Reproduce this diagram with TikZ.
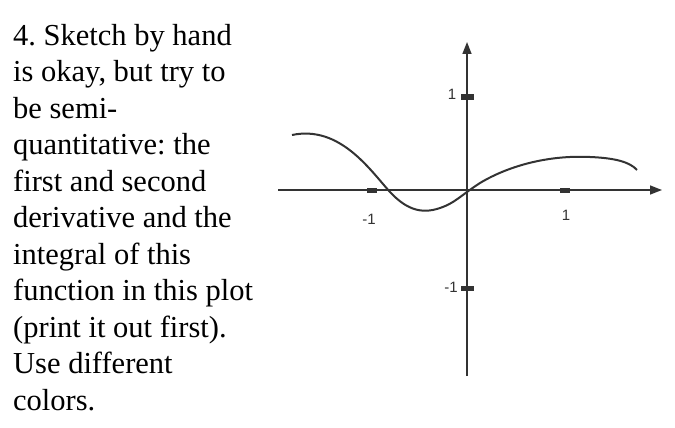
\documentclass[tikz,border=0pt]{standalone}
\usepackage{fontspec}
\setmainfont{Liberation Serif}
\newfontfamily\axfont{Liberation Sans}
\usetikzlibrary{arrows.meta}
\frenchspacing
\begin{document}
\begin{tikzpicture}[x=1pt,y=-1pt,
  axis/.style={line width=1.6pt,color=black!80,-{Triangle[length=12pt,width=9pt]}},
  tick/.style={line width=5pt,color=black!80},
  lab/.style={font=\axfont\fontsize{15}{17}\selectfont,text=black!80},
  curve/.style={line width=2pt,color=black!80}]
\useasboundingbox (0,0) rectangle (675,428);
\node[anchor=north west,align=left,inner sep=0pt,font=\fontsize{30.5}{36.5}\selectfont] (txt) at (13,24)
{4. Sketch by hand\\is okay, but try to\\be semi-\\quantitative: the\\first and second\\derivative and the\\integral of this\\function in this plot\\(print it out first).\\Use different\\colors.};
\coordinate (xs) at (278,190); \coordinate (xe) at (662,190);
\coordinate (ys) at (467,376); \coordinate (ye) at (467,42);
\draw[axis] (xs) -- (xe);
\draw[axis] (ys) -- (ye);
\draw[tick] (367,190) -- (377,190);
\draw[tick] (560,190) -- (570,190);
\draw[tick] (461,97) -- (474,97);
\draw[tick] (461,288) -- (474,288);
\node[lab] (xm1) at (369,219) {-1};
\node[lab] (xp1) at (566,215) {1};
\node[lab] (yp1) at (452,94) {1};
\node[lab] (ym1) at (451,287) {-1};
\draw[curve] (292,135) .. controls (340,125) and (370,170) .. (390,192)
  .. controls (405,208) and (420,215) .. (440,208)
  .. controls (455,203) and (460,196) .. (480,183)
  .. controls (510,165) and (550,155) .. (590,157)
  .. controls (615,158) and (630,162) .. (637,170);
\end{tikzpicture}
\end{document}
